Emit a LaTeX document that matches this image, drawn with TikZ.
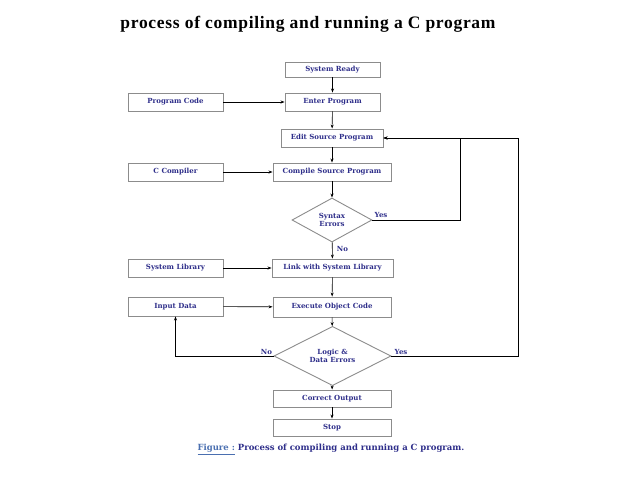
\documentclass[tikz,border=0pt]{standalone}
\usepackage{fontspec}
\setmainfont{DejaVu Serif}
\newfontfamily\titlefont[LetterSpace=4]{Liberation Serif}
\usetikzlibrary{shapes.geometric,arrows.meta}
\definecolor{boxtext}{HTML}{2E2E8A}
\definecolor{boxline}{HTML}{8C8C8C}
\definecolor{figblue}{HTML}{4A6FB0}
\begin{document}
\begin{tikzpicture}[x=1pt, y=-1pt,
    font=\fontsize{7}{8}\selectfont\bfseries,
    stepbox/.style={draw=boxline, line width=0.9pt, fill=white, text=boxtext, inner sep=0pt},
    decision/.style={diamond, draw=boxline, line width=0.9pt, fill=white, text=boxtext, inner sep=0pt, align=center},
    arr/.style={-{Stealth[length=4pt,width=3pt]}, line width=0.6pt},
    lbl/.style={text=boxtext}]
    \useasboundingbox (0,0) rectangle (638,479);
    \node [font=\titlefont\fontsize{17.5}{19}\selectfont\bfseries] (title) at (308,24) {process of compiling and running a C program};
    \node [stepbox, minimum width=95pt, minimum height=15pt] (sysReady) at (332.5,69.5) {System Ready};
    \node [stepbox, minimum width=95pt, minimum height=18pt] (enterProg) at (332.5,102) {Enter Program};
    \node [stepbox, minimum width=95pt, minimum height=18pt] (progCode) at (175.5,102) {Program Code};
    \node [stepbox, minimum width=102pt, minimum height=18pt] (editSrc) at (332,138) {Edit Source Program};
    \node [stepbox, minimum width=95pt, minimum height=18pt] (cCompiler) at (175.5,172) {C Compiler};
    \node [stepbox, minimum width=118pt, minimum height=18pt] (compileSrc) at (332,172) {Compile Source Program};
    \node [decision, minimum width=80pt, minimum height=44pt] (syntaxErr) at (332,220) {Syntax\\Errors};
    \node [stepbox, minimum width=95pt, minimum height=18pt] (sysLib) at (175.5,268) {System Library};
    \node [stepbox, minimum width=121pt, minimum height=18pt] (linkLib) at (332.5,268) {Link with System Library};
    \node [stepbox, minimum width=95pt, minimum height=19pt] (inputData) at (175.5,306.5) {Input Data};
    \node [stepbox, minimum width=118pt, minimum height=20pt] (execCode) at (332,307) {Execute Object Code};
    \node [decision, minimum width=117pt, minimum height=45pt] (logicErr) at (332.5,356) {Logic \&\\Data Errors};
    \node [stepbox, minimum width=118pt, minimum height=17pt] (correctOut) at (332,398.5) {Correct Output};
    \node [stepbox, minimum width=118pt, minimum height=17pt] (stopNode) at (332,427.5) {Stop};
    \node [text=boxtext, font=\fontsize{8.5}{9}\selectfont\bfseries] (caption) at (331,449.5) {\textcolor{figblue}{\underline{Figure :}} Process of compiling and running a C program.};
    \coordinate (syntaxLoop) at (460,138);
    \coordinate (logicLoop) at (518,138);
    \draw [arr] (sysReady) -- (enterProg);
    \draw [arr] (progCode) -- (enterProg);
    \draw [arr] (enterProg) -- (editSrc);
    \draw [arr] (editSrc) -- (compileSrc);
    \draw [arr] (cCompiler) -- (compileSrc);
    \draw [arr] (compileSrc) -- (syntaxErr);
    \draw [arr] (syntaxErr.east) -| (syntaxLoop) -- (editSrc.east);
    \draw [arr] (syntaxErr) -- (linkLib);
    \draw [arr] (sysLib) -- (linkLib);
    \draw [arr] (linkLib) -- (execCode);
    \draw [arr] (inputData) -- (execCode);
    \draw [arr] (execCode) -- (logicErr);
    \draw [arr] (logicErr.west) -| (inputData.south);
    \draw [arr] (logicErr.east) -| (logicLoop) -- (editSrc.east);
    \draw [arr] (logicErr) -- (correctOut);
    \draw [arr] (correctOut) -- (stopNode);
    \node [lbl] (syntaxYes) at (381,215) {Yes};
    \node [lbl] (syntaxNo) at (342.5,249) {No};
    \node [lbl] (logicNo) at (266.5,351.5) {No};
    \node [lbl] (logicYes) at (401,351.5) {Yes};
  \end{tikzpicture}
\end{document}
